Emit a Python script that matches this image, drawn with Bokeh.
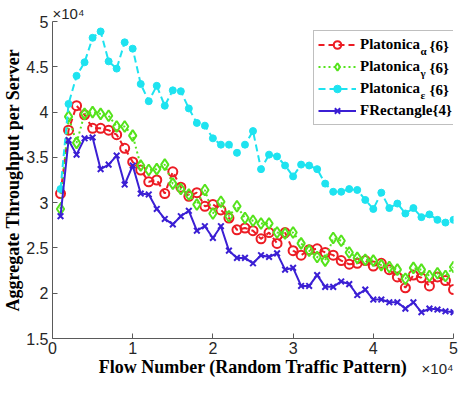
from bokeh.plotting import figure
from bokeh.models import Range1d, FixedTicker, Label, Legend, LegendItem, Title
from bokeh.embed import file_html
from bokeh.resources import INLINE

# Flow number (x 10^4)
flow = [0.1, 0.2, 0.3, 0.4, 0.5, 0.6, 0.7, 0.8, 0.9, 1.0,
        1.1, 1.2, 1.3, 1.4, 1.5, 1.6, 1.7, 1.8, 1.9, 2.0,
        2.1, 2.2, 2.3, 2.4, 2.5, 2.6, 2.7, 2.8, 2.9, 3.0,
        3.1, 3.2, 3.3, 3.4, 3.5, 3.6, 3.7, 3.8, 3.9, 4.0,
        4.1, 4.2, 4.3, 4.4, 4.5, 4.6, 4.7, 4.8, 4.9, 5.0]

# Aggregate throughput per server (x 10^4)
plat_alpha = [3.10, 3.80, 4.07, 3.97, 3.82, 3.82, 3.80, 3.75, 3.60, 3.45,
              3.36, 3.23, 3.25, 3.10, 3.34, 3.17, 3.07, 3.11, 2.96, 2.98,
              2.92, 2.83, 2.70, 2.72, 2.69, 2.60, 2.67, 2.55, 2.67, 2.47,
              2.42, 2.48, 2.49, 2.45, 2.42, 2.36, 2.32, 2.33, 2.36, 2.30,
              2.33, 2.26, 2.18, 2.06, 2.20, 2.17, 2.08, 2.18, 2.14, 2.04]
plat_gamma = [2.93, 3.95, 3.66, 3.98, 4.00, 3.98, 3.96, 3.84, 3.84, 3.74,
              3.41, 3.36, 3.37, 3.42, 3.21, 3.15, 3.09, 2.98, 3.14, 2.88,
              3.01, 2.85, 2.96, 2.83, 2.80, 2.77, 2.77, 2.67, 2.66, 2.67,
              2.55, 2.47, 2.40, 2.36, 2.61, 2.58, 2.45, 2.39, 2.37, 2.36,
              2.31, 2.29, 2.26, 2.16, 2.28, 2.26, 2.19, 2.22, 2.19, 2.29]
plat_eps = [3.15, 4.09, 4.40, 4.55, 4.82, 4.89, 4.56, 4.48, 4.77, 4.70,
            4.31, 4.12, 4.29, 4.07, 4.24, 4.23, 4.04, 3.88, 3.85, 3.71,
            3.64, 3.64, 3.55, 3.64, 3.79, 3.37, 3.53, 3.51, 3.41, 3.29,
            3.42, 3.41, 3.37, 3.21, 3.12, 3.12, 3.15, 3.14, 3.03, 2.93,
            3.11, 2.94, 2.99, 2.88, 2.94, 2.84, 2.87, 2.81, 2.78, 2.81]
frect = [2.85, 3.69, 3.53, 3.71, 3.72, 3.37, 3.42, 3.52, 3.20, 3.41,
         3.10, 3.09, 2.93, 2.82, 2.76, 2.85, 2.91, 2.69, 2.74, 2.61,
         2.74, 2.47, 2.39, 2.39, 2.33, 2.42, 2.40, 2.44, 2.26, 2.28,
         2.08, 2.08, 2.20, 2.07, 2.07, 2.13, 2.10, 1.98, 2.04, 1.93,
         1.93, 1.90, 1.90, 1.83, 1.90, 1.79, 1.83, 1.82, 1.80, 1.79]

x_ticks = [0, 1, 2, 3, 4, 5]
y_ticks = [1.5, 2, 2.5, 3, 3.5, 4, 4.5, 5]
y_tick_labels = {1.5: "1.5", 2: "2", 2.5: "2.5", 3: "3", 3.5: "3.5", 4: "4", 4.5: "4.5", 5: "5"}

RED = "#ec1c24"
GREEN = "#55e31c"
CYAN = "#1ee3f0"
BLUE = "#3b1fd4"
AX = "#5a5a5a"
SERIF = "Liberation Serif"
SANS = "Liberation Sans"

p = figure(width=458, height=379, output_backend="svg", toolbar_location=None,
           x_range=Range1d(0, 5), y_range=Range1d(1.5, 5),
           min_border_left=49, min_border_right=5, min_border_top=21, min_border_bottom=40)
p.outline_line_color = None
p.grid.visible = False
p.background_fill_color = "white"
p.border_fill_color = "white"

for ax in (p.xaxis[0], p.yaxis[0]):
    ax.axis_line_color = AX
    ax.major_tick_line_color = AX
    ax.major_tick_in = 5
    ax.major_tick_out = 0
    ax.minor_tick_line_color = None
    ax.major_label_text_font = SANS
    ax.major_label_text_font_size = "16px"
    ax.major_label_text_color = "#262626"
    ax.axis_label_text_font = SERIF
    ax.axis_label_text_font_style = "bold"
    ax.axis_label_text_font_size = "18px"
    ax.axis_label_text_color = "black"
    ax.axis_label_standoff = 0
p.xaxis.ticker = FixedTicker(ticks=x_ticks)
p.yaxis.ticker = FixedTicker(ticks=y_ticks)
p.yaxis.major_label_overrides = y_tick_labels
p.xaxis.major_label_standoff = 3
p.yaxis.major_label_standoff = 4
p.xaxis.axis_label = "Flow Number (Random Traffic Pattern)"
p.yaxis.axis_label = "Aggregate Throughput per Server"

# exponent labels
p.title.text = "\u00d710\u2074"
p.title.align = "left"
p.title.text_font = SANS
p.title.text_font_style = "normal"
p.title.text_font_size = "15px"
p.title.text_color = "#262626"
p.title.standoff = 0
p.add_layout(Title(text="\u00d710\u2074", align="right", vertical_align="top", standoff=-40,
                   text_font=SANS, text_font_style="normal", text_font_size="15px",
                   text_color="#262626"), "below")

# series
r1l = p.line(flow, plat_alpha, color=RED, line_width=2, line_dash="6 4")
r1m = p.scatter(flow, plat_alpha, marker="circle", size=9, line_color=RED, line_width=2, fill_alpha=0)
r2l = p.line(flow, plat_gamma, color=GREEN, line_width=2, line_dash="2 3")
r2m = p.scatter(flow, plat_gamma, marker="diamond", size=11, line_color=GREEN, line_width=2, fill_alpha=0)
r3l = p.line(flow, plat_eps, color=CYAN, line_width=2, line_dash="7 4")
r3m = p.scatter(flow, plat_eps, marker="circle", size=7, line_color=CYAN, fill_color=CYAN)
r4l = p.line(flow, frect, color=BLUE, line_width=2)
r4m = p.scatter(flow, frect, marker="x", size=8, line_color=BLUE, line_width=2)

LEG_X, LEG_Y = 261, 213
legend = Legend(items=[
    LegendItem(label="Platonica", renderers=[r1l, r1m]),
    LegendItem(label="Platonica", renderers=[r2l, r2m]),
    LegendItem(label="Platonica", renderers=[r3l, r3m]),
    LegendItem(label="FRectangle{4}", renderers=[r4l, r4m]),
], location=(LEG_X, LEG_Y), glyph_width=38, glyph_height=19, label_height=19, label_width=94,
   spacing=3, padding=4, margin=0, label_standoff=4,
   border_line_color="#7f7f7f", border_line_width=1,
   label_text_font=SERIF, label_text_font_style="bold", label_text_font_size="15px",
   label_text_color="black", background_fill_alpha=0)
p.add_layout(legend, "center")

# legend subscripts and suffixes
for i, sub in enumerate(["\u03b1", "\u03b3", "\u03b5"]):
    yrow = LEG_Y + 93 - 13.5 - i * 22
    p.add_layout(Label(x=LEG_X + 107, y=yrow - 5, x_units="screen", y_units="screen", text=sub,
                       text_font=SERIF, text_font_style="bold", text_font_size="11px",
                       text_baseline="middle", text_color="black"))
    p.add_layout(Label(x=LEG_X + 116, y=yrow, x_units="screen", y_units="screen", text="{6}",
                       text_font=SERIF, text_font_style="bold", text_font_size="15px",
                       text_baseline="middle", text_color="black"))

open("out.html", "w").write(file_html(p, INLINE))
